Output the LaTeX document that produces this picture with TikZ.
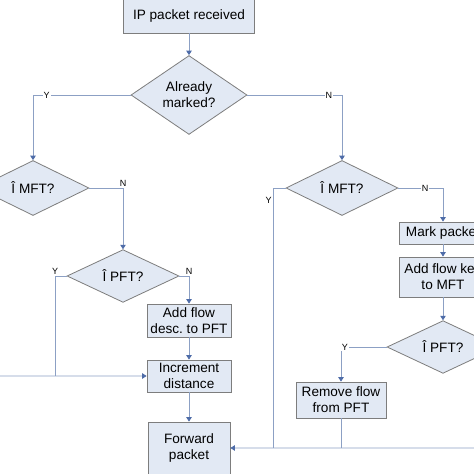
\documentclass[tikz,border=0pt]{standalone}
\usepackage{fontspec}
\setmainfont{Liberation Sans}
\usetikzlibrary{shapes.geometric}
\usetikzlibrary{positioning}
\usetikzlibrary{arrows.meta}
\definecolor{boxfill}{RGB}{226,233,244}
\definecolor{boxline}{RGB}{125,125,125}
\definecolor{flowline}{RGB}{140,160,196}
\definecolor{tipblue}{RGB}{78,108,168}
\frenchspacing

\begin{document}
\begin{tikzpicture}[x=1bp, y=1bp, line width=0.8bp, draw=flowline,
    font=\fontsize{13.6bp}{16bp}\selectfont,
    action/.style={rectangle, draw=boxline, fill=boxfill, align=center, inner sep=0pt},
    test/.style={diamond, draw=boxline, fill=boxfill, align=center, inner sep=0pt, minimum width=112bp, minimum height=48bp},
    answer/.style={fill=white, inner sep=1bp, font=\fontsize{9bp}{10bp}\selectfont},
    flow/.style={-{Triangle[width=5.5bp,length=4.5bp,color=tipblue]}}]

    \path[use as bounding box, fill=white] (0,0) rectangle (474,-474);
    \clip (0,0) rectangle (474,-474);

    \begin{scope}[on grid]

        \node (ip) at (189,-15.5) [action, minimum width=131bp, minimum height=35bp] {IP packet received};
        \node (marked) [test, minimum width=116bp, minimum height=58bp, below=79.5bp of ip] {Already\\marked?};

        % left branch
        \node (mftL) at (33,-188) [test] {Î MFT?};
        \node (pftL) at (123,-276) [test] {Î PFT?};
        \node (desc) at (189,-320.5) [action, minimum width=84bp, minimum height=33bp] {Add flow\\desc. to PFT};
        \node (incr) [action, minimum width=84bp, minimum height=32bp, below=55.5bp of desc] {Increment\\distance};
        \node (fwd) [action, minimum width=82bp, minimum height=52bp, below=72bp of incr] {Forward\\packet};

        % right branch
        \node (mftR) at (342,-188) [test] {Î MFT?};
        \node (mark) at (443,-233) [action, minimum width=88bp, minimum height=22bp] {Mark packet};
        \node (key) [action, minimum width=88bp, minimum height=40bp, below=44bp of mark] {Add flow key\\to MFT};
        \node (pftR) [test, below=70bp of key] {Î PFT?};
        \node (remove) at (341,-400) [action, minimum width=90bp, minimum height=36bp] {Remove flow\\from PFT};

        \coordinate (jL) at (55,-376);
        \coordinate (inL) at (-10,-376);
        \coordinate (jR) at (273,-448);
        \coordinate (inR) at (490,-448);

        \draw[flow] (ip) -- (marked);
        \draw[flow] (marked.west) -| (mftL.north) node [answer, pos=0.43] {Y};
        \draw[flow] (marked.east) -| (mftR.north) node [answer, pos=0.43] {N};

        \draw[flow] (mftL.east) -| (pftL.north) node [answer, pos=0.5, above] {N};
        \draw (pftL.west) -| (jL) node [answer, pos=0.5, above] {Y};
        \draw[flow] (inL) -- (incr.west);
        \draw[flow] (pftL.east) -| (desc.north) node [answer, pos=0.5, above] {N};
        \draw[flow] (desc) -- (incr);
        \draw[flow] (incr) -- (fwd);

        \draw (mftR.west) -| (jR) node [answer, pos=0.523, left] {Y};
        \draw[flow] (mftR.east) -| (mark.north) node [answer, pos=0.3] {N};
        \draw[flow] (mark) -- (key);
        \draw[flow] (key) -- (pftR);
        \draw[flow] (pftR.west) -| (remove.north) node [answer, pos=0.457] {Y};
        \draw (remove) -- (remove |- inR);
        \draw[flow] (inR) -- (fwd.east);
    \end{scope}

\end{tikzpicture}
\end{document}
